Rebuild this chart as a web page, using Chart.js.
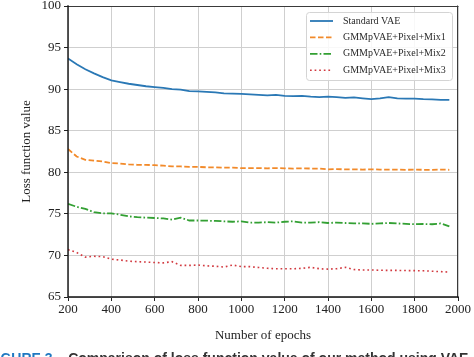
<!DOCTYPE html>
<html><head><meta charset="utf-8">
<script src="https://cdn.jsdelivr.net/npm/chart.js@4/dist/chart.umd.min.js"></script>
<style>
html,body{margin:0;padding:0;background:#fff;overflow:hidden}
#wrap{position:relative;width:474px;height:357px}
#c{position:absolute;left:0;top:0}
#caption{position:absolute;left:-12px;top:351px;white-space:nowrap;font:bold 14px "Liberation Sans",Arial,sans-serif;line-height:14px;color:#333}
#caption .fig{color:#1f78c1}
</style></head><body>
<div id="wrap"><canvas id="c" width="474" height="357"></canvas>
<div id="caption"><span class="fig">FIGURE 3.</span>&nbsp;&nbsp;&nbsp;Comparison of loss function value of our method using VAE</div>
</div>
<script>
const epochs = [200,240,280,320,360,400,440,480,520,560,600,640,680,720,760,800,840,880,920,960,1000,1040,1080,1120,1160,1200,1240,1280,1320,1360,1400,1440,1480,1520,1560,1600,1640,1680,1720,1760,1800,1840,1880,1920,1960];
const standardVAE = [93.7,93.0,92.4,91.9,91.45,91.05,90.85,90.65,90.5,90.35,90.25,90.15,90.0,89.95,89.75,89.72,89.68,89.6,89.5,89.45,89.42,89.36,89.3,89.25,89.3,89.2,89.15,89.2,89.1,89.05,89.1,89.05,88.95,89.0,88.9,88.8,88.9,89.05,88.9,88.85,88.85,88.8,88.78,88.72,88.7];
const mix1 = [82.8,81.9,81.5,81.4,81.3,81.1,81.05,80.95,80.9,80.9,80.85,80.8,80.7,80.7,80.65,80.65,80.6,80.6,80.55,80.55,80.5,80.5,80.5,80.48,80.5,80.48,80.45,80.48,80.45,80.45,80.35,80.38,80.35,80.35,80.33,80.35,80.33,80.32,80.33,80.3,80.32,80.3,80.3,80.32,80.3];
const mix2 = [76.2,75.85,75.6,75.2,75.05,75.05,74.9,74.7,74.6,74.55,74.5,74.45,74.3,74.55,74.2,74.2,74.18,74.15,74.1,74.05,74.1,73.95,73.95,74.0,73.95,74.05,74.1,73.95,73.95,74.0,73.9,73.95,73.9,73.85,73.85,73.8,73.85,73.9,73.85,73.8,73.75,73.78,73.75,73.85,73.5];
const mix3 = [70.7,70.35,69.8,69.9,69.85,69.55,69.45,69.3,69.25,69.2,69.15,69.1,69.25,68.8,68.8,68.85,68.75,68.7,68.6,68.85,68.65,68.65,68.55,68.45,68.4,68.4,68.4,68.45,68.57,68.4,68.35,68.4,68.57,68.3,68.25,68.25,68.22,68.2,68.2,68.18,68.17,68.15,68.1,68.05,68.0];
const seriesLabels = ['Standard VAE','GMMpVAE+Pixel+Mix1','GMMpVAE+Pixel+Mix2','GMMpVAE+Pixel+Mix3'];
const xTickValues = [200,400,600,800,1000,1200,1400,1600,1800,2000];
const yTickValues = [65,70,75,80,85,90,95,100];
const xTitle = 'Number of epochs';
const yTitle = 'Loss function value';

const pts = arr => arr.map((v,i)=>({x:epochs[i], y:v}));
const serif = '"Liberation Serif","Times New Roman",serif';

const spines = {
  id:'spines',
  afterDatasetsDraw(chart){
    const {ctx, chartArea:a} = chart;
    ctx.save();
    ctx.lineCap='square';
    ctx.strokeStyle='#3a3a3a'; ctx.lineWidth=1;
    ctx.beginPath(); ctx.moveTo(a.left,a.top+0.5); ctx.lineTo(a.right,a.top+0.5);
    ctx.moveTo(a.right-0.5,a.top); ctx.lineTo(a.right-0.5,a.bottom); ctx.stroke();
    ctx.strokeStyle='#111'; ctx.lineWidth=1.4;
    ctx.beginPath(); ctx.moveTo(a.left,a.top); ctx.lineTo(a.left,a.bottom);
    ctx.lineTo(a.right,a.bottom); ctx.stroke();
    ctx.restore();
  }
};

const boxLegend = {
  id:'boxLegend',
  afterDraw(chart, args, o){
    const ctx = chart.ctx;
    ctx.save();
    const r=3, x=o.x, y=o.y, w=o.w, h=o.h;
    ctx.beginPath();
    ctx.moveTo(x+r,y); ctx.lineTo(x+w-r,y); ctx.quadraticCurveTo(x+w,y,x+w,y+r);
    ctx.lineTo(x+w,y+h-r); ctx.quadraticCurveTo(x+w,y+h,x+w-r,y+h);
    ctx.lineTo(x+r,y+h); ctx.quadraticCurveTo(x,y+h,x,y+h-r);
    ctx.lineTo(x,y+r); ctx.quadraticCurveTo(x,y,x+r,y); ctx.closePath();
    ctx.fillStyle='rgba(255,255,255,0.85)'; ctx.fill();
    ctx.strokeStyle='#d4d4d4'; ctx.lineWidth=1; ctx.stroke();
    chart.data.datasets.forEach((ds,i)=>{
      const yy = o.row0 + i*o.rowGap;
      ctx.strokeStyle = ds.borderColor; ctx.lineWidth = ds.borderWidth;
      ctx.setLineDash(ds.borderDash||[]);
      ctx.beginPath(); ctx.moveTo(o.lx0,yy); ctx.lineTo(o.lx1,yy); ctx.stroke();
      ctx.setLineDash([]);
      ctx.fillStyle='#2a2a2a'; ctx.font='10px '+serif; ctx.textBaseline='middle'; ctx.textAlign='left';
      ctx.fillText(ds.label, o.tx, yy);
    });
    ctx.restore();
  }
};

new Chart(document.getElementById('c'), {
  type:'line',
  data:{datasets:[
    {label:seriesLabels[0], data:pts(standardVAE), borderColor:'#2a78b5', borderWidth:1.8, borderDash:[]},
    {label:seriesLabels[1], data:pts(mix1), borderColor:'#f28a2a', borderWidth:1.8, borderDash:[5.5,2.5]},
    {label:seriesLabels[2], data:pts(mix2), borderColor:'#33a033', borderWidth:1.8, borderDash:[7.5,2.2,1.6,2.2]},
    {label:seriesLabels[3], data:pts(mix3), borderColor:'#d23a40', borderWidth:1.6, borderDash:[1.7,2.9]}
  ]},
  options:{
    responsive:false, animation:false, devicePixelRatio:1,
    elements:{point:{radius:0}, line:{tension:0, borderCapStyle:'butt', fill:false}},
    layout:{padding:{left:0, right:16, top:6, bottom:14}},
    plugins:{legend:{display:false}, tooltip:{enabled:false},
      boxLegend:{x:306.5, y:12.5, w:146, h:68, row0:21, rowGap:16.4, lx0:310, lx1:333, tx:343}},
    scales:{
      x:{type:'linear', min:200, max:2000,
        afterBuildTicks:s=>{s.ticks = xTickValues.map(v=>({value:v}));},
        afterFit:s=>{s.height=46; s.paddingLeft=0; s.paddingRight=0;},
        grid:{color:'#cfcfcf', lineWidth:1, tickColor:'#222', tickLength:4, drawTicks:true},
        border:{display:false},
        ticks:{color:'#222', font:{family:serif, size:13}, padding:1, maxRotation:0, autoSkip:false, callback:v=>String(v)},
        title:{display:true, text:xTitle, color:'#222', font:{family:serif, size:13}, padding:{top:0,bottom:0}}
      },
      y:{type:'linear', min:65, max:100,
        afterBuildTicks:s=>{s.ticks = yTickValues.map(v=>({value:v}));},
        afterFit:s=>{s.width=68; s.paddingTop=0; s.paddingBottom=0;},
        grid:{color:'#cfcfcf', lineWidth:1, tickColor:'#222', tickLength:4, drawTicks:true},
        border:{display:false},
        ticks:{color:'#222', font:{family:serif, size:13}, padding:3, autoSkip:false, callback:v=>String(v)},
        title:{display:true, text:yTitle, color:'#222', font:{family:serif, size:13}, padding:{top:19,bottom:0}}
      }
    }
  },
  plugins:[spines, boxLegend]
});
</script>
</body></html>
